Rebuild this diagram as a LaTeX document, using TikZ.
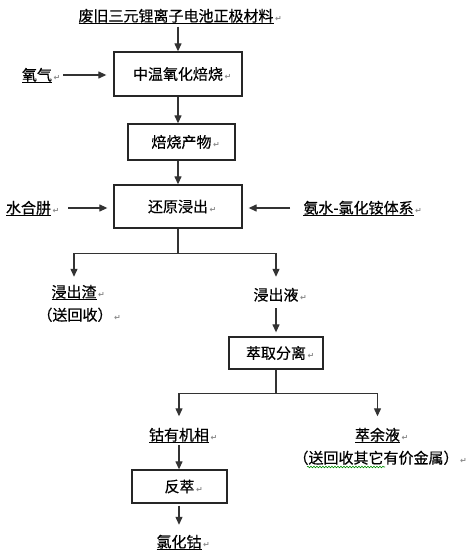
\documentclass[tikz,border=0pt]{standalone}
\usepackage{fontspec}
\usetikzlibrary{arrows.meta,decorations.pathmorphing,calc}
\newfontfamily\cjk[BoldFont={Noto Sans CJK SC},BoldFeatures={FakeBold=0.45}]{Noto Sans CJK SC}
\newfontfamily\dejavu{DejaVu Sans}
\newcommand\retmark{\rlap{\hspace{1.5bp}{\dejavu\fontsize{8bp}{8bp}\selectfont\color{black!45}↵}}}
\newcommand\myul[1]{\setbox0=\hbox{#1}\rlap{\raisebox{-2.4bp}{\rule{\wd0}{0.9bp}}}\box0}
\tikzset{
  lab/.style={inner sep=0pt, text height=13bp, text depth=2bp, font=\cjk\bfseries\fontsize{15bp}{18bp}\selectfont, text=black},
  procbox/.style={draw=black!85, line width=1.3bp, inner sep=0pt, font=\cjk\bfseries\fontsize{15bp}{18bp}\selectfont, text=black},
  arr/.style={draw=black!80, line width=1.2bp, -{Triangle[length=8bp,width=7bp]}},
  ln/.style={draw=black!80, line width=1.2bp},
}
\begin{document}
\begin{tikzpicture}[x=1bp,y=-1bp]
\useasboundingbox (0,0) rectangle (474,556);
\fill[white] (0,0) rectangle (474,556);
% labels
\node[lab] (src) at (176,16) {\myul{废旧三元锂离子电池正极材料}\retmark};
\node[lab] (o2) at (37,75) {\myul{氧气}\retmark};
\node[lab] (hyd) at (28.5,208) {\myul{水合肼}\retmark};
\node[lab] (nh3) at (358.5,208) {\myul{氨水-氯化铵体系}\retmark};
\node[lab] (slag) at (74,292) {\myul{浸出渣}\retmark};
\node[lab] (slag2) at (75,315) {（送回收）\retmark};
\node[lab] (leach) at (276,295) {浸出液\retmark};
\node[lab] (cophase) at (179,435) {\myul{钴有机相}\retmark};
\node[lab] (raff) at (377.5,435) {\myul{萃余液}\retmark};
\node[lab] (raff2) at (376,458) {（送回收其它有价金属）\retmark};
\node[lab] (cocl) at (179,542) {\myul{氯化钴}\retmark};
% boxes
\node[procbox, minimum width=128bp, minimum height=44bp] (roast) at (178,74) {中温氧化焙烧\retmark};
\node[procbox, minimum width=107bp, minimum height=36bp] (prod) at (181.5,142) {焙烧产物\retmark};
\node[procbox, minimum width=128bp, minimum height=43bp] (red) at (178,206.5) {还原浸出\retmark};
\node[procbox, minimum width=94bp, minimum height=32bp] (ext) at (276,353) {萃取分离\retmark};
\node[procbox, minimum width=95bp, minimum height=33bp] (strip) at (179.5,486.5) {反萃\retmark};
% wavy spell-check line
\draw[green!55!black, line width=0.6bp, decorate, decoration={snake, amplitude=0.8bp, segment length=3bp}] (307,467) -- (385,467);
% connectors
\draw[arr, shorten <=3bp] (roast.north |- src.south) -- (roast.north);
\draw[arr, shorten <=11bp, shorten >=7bp] (o2.east) -- (o2.east -| roast.west);
\draw[arr] (roast.south) -- (roast.south |- prod.north);
\draw[arr] (roast.south |- prod.south) -- (red.north);
\draw[arr, shorten <=17bp, shorten >=6bp] (hyd.east) -- (hyd.east -| red.west);
\draw[arr, shorten <=13bp, shorten >=6bp] (nh3.west) -- (nh3.west -| red.east);
\coordinate (j1) at ($(red.south)+(0,24.5)$);
\draw[ln] (red.south) -- (j1);
\draw[arr, shorten >=7.5bp] (j1) -| (slag.north);
\draw[arr, shorten >=10.5bp] (j1) -| (leach.north);
\draw[arr, shorten <=5.5bp, shorten >=4bp] (leach.south) -- (leach.south |- ext.north);
\coordinate (j2) at ($(ext.south)+(0,24)$);
\draw[ln] (ext.south) -- (j2);
\draw[arr, shorten >=11bp] (j2) -| (cophase.north);
\draw[arr, shorten >=11bp] (j2) -| (raff.north);
\draw[arr, shorten <=2.5bp] (cophase.south) -- (cophase.south |- strip.north);
\draw[arr, shorten <=2bp, shorten >=9.5bp] (strip.south -| cocl.north) -- (cocl.north);
\end{tikzpicture}
\end{document}
